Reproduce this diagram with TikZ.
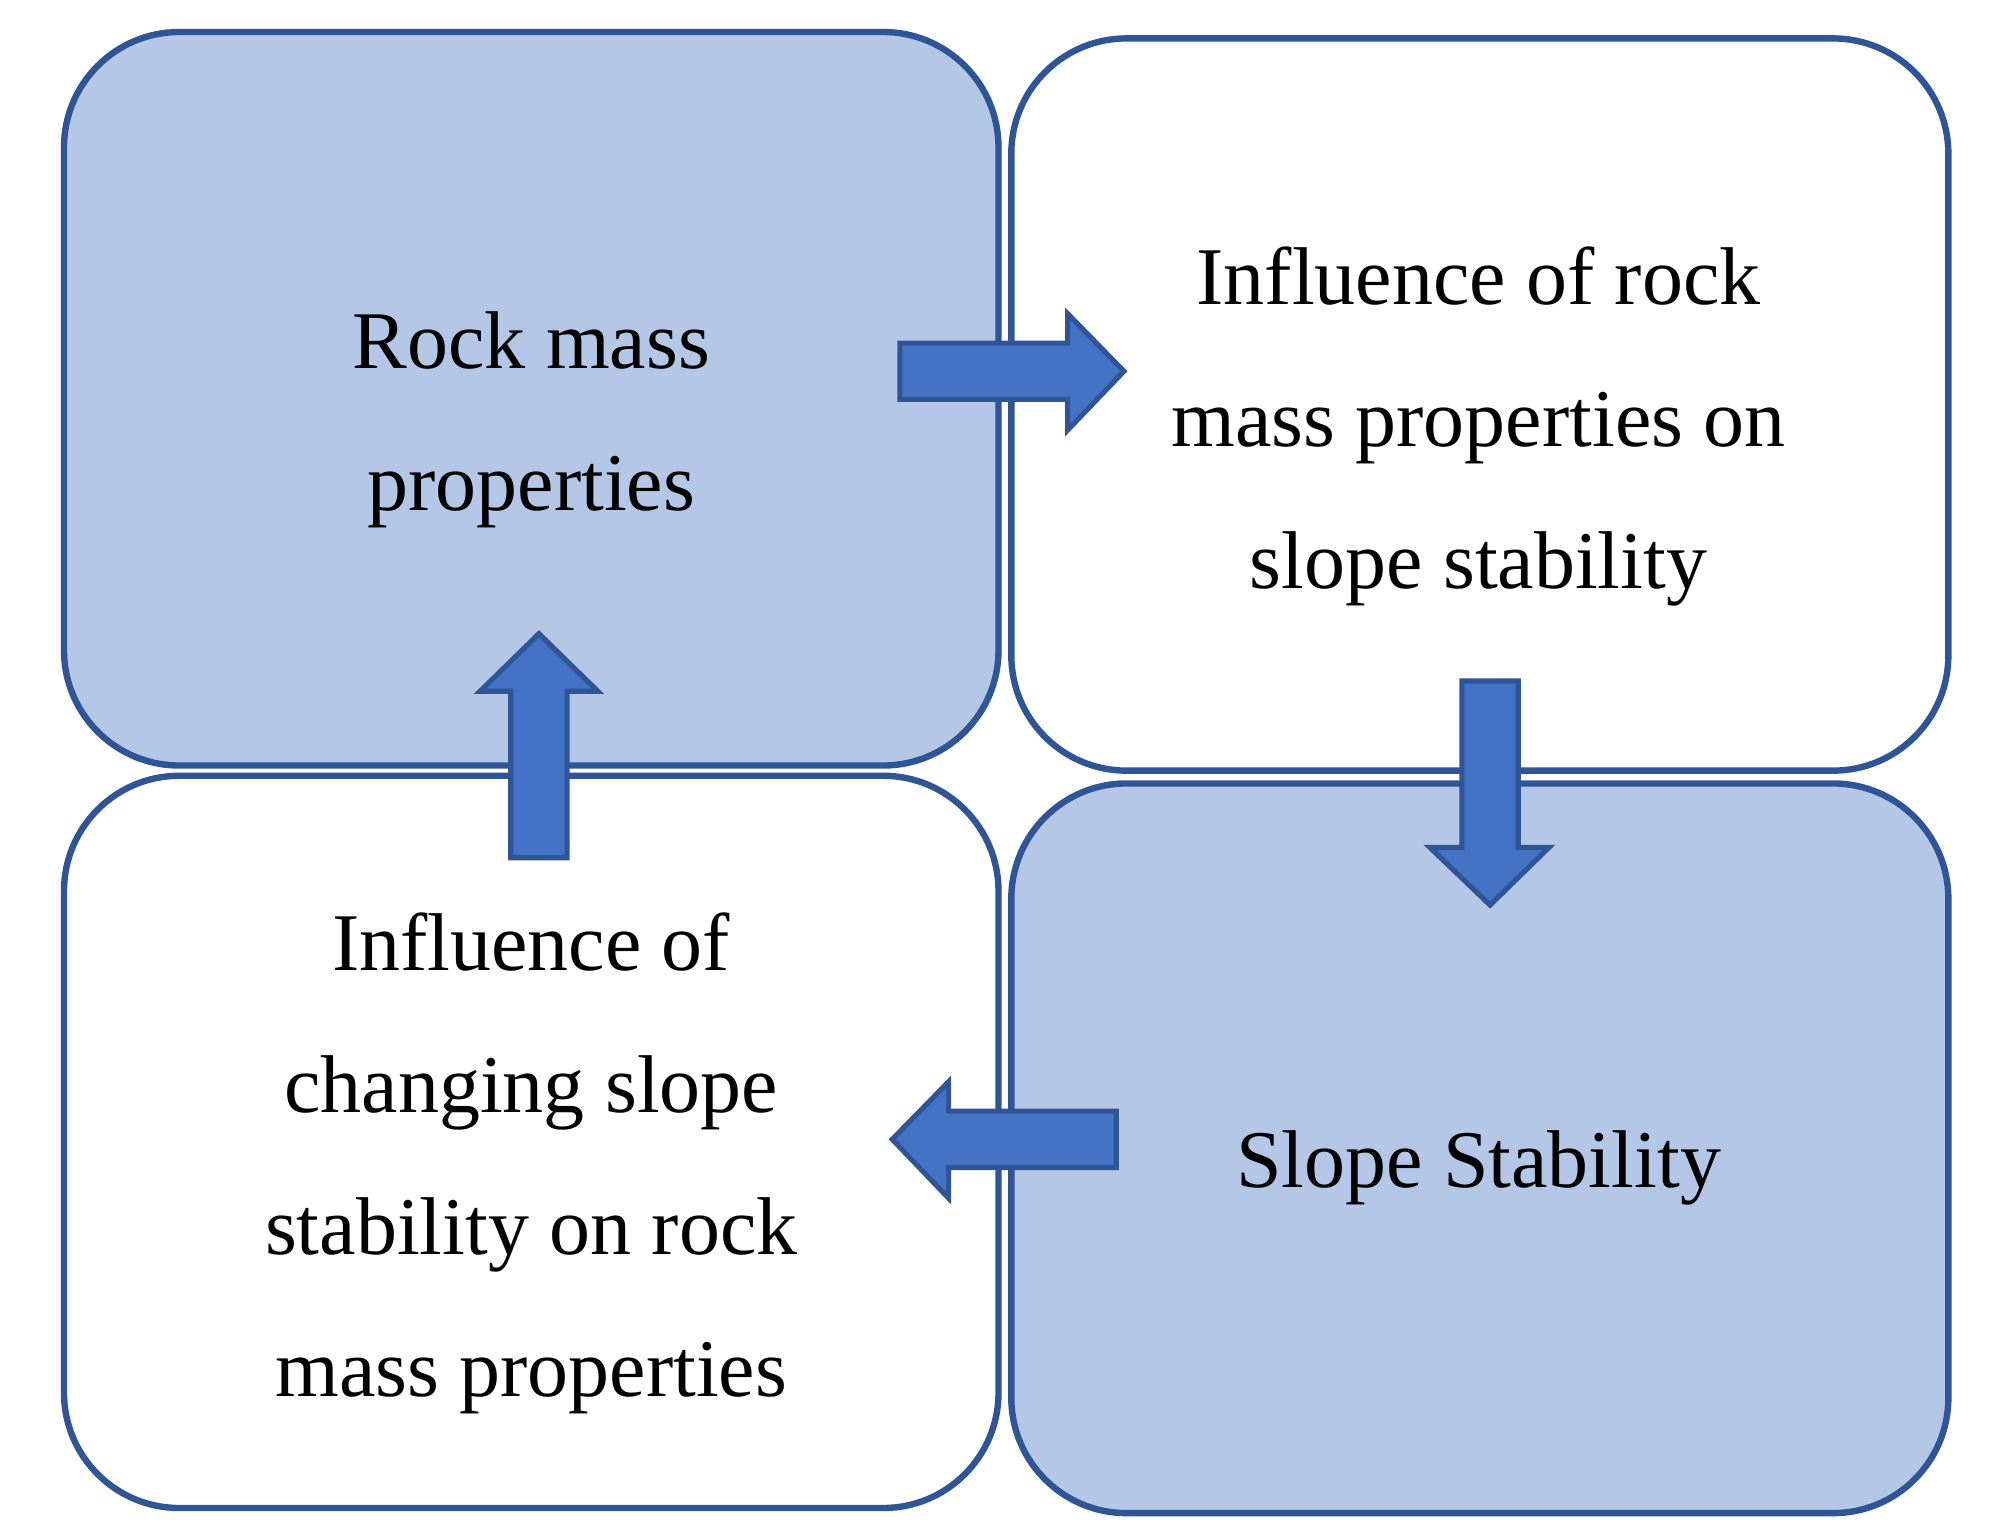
\documentclass[tikz,border=0pt]{standalone}
\usepackage{fontspec}
\setmainfont{Liberation Serif}
\begin{document}
\begin{tikzpicture}[x=0.5pt,y=-0.5pt,
  box/.style={draw=bord,line width=2.5pt,rounded corners=45pt},
  lbl/.style={align=center,font=\fontsize{32}{55.5}\selectfont,text=black},
  arr/.style={fill=arrf,draw=bord,line width=2pt,line join=miter}]
\definecolor{bord}{HTML}{2F5597}
\definecolor{boxf}{HTML}{B4C7E7}
\definecolor{arrf}{HTML}{4472C4}
\useasboundingbox (0,0) rectangle (1560,1201);
\draw[box,fill=boxf] (50,25) rectangle (780,598);
\draw[box,fill=white] (790,30) rectangle (1522,602);
\draw[box,fill=white] (50,606) rectangle (780,1178);
\draw[box,fill=boxf] (790,612) rectangle (1522,1182);
\node[lbl] (a) at (415,328) {Rock mass\\properties};
\node[lbl] (b) at (1155,333) {Influence of rock\\mass properties on\\slope stability};
\node[lbl] (d) at (415,909) {Influence of\\changing slope\\stability on rock\\mass properties};
\node[lbl] (c) at (1155,912) {Slope Stability};
% arrows
\draw[arr] (703,268) -- (834,268) -- (834,245) -- (878,290) -- (834,336) -- (834,312) -- (703,312) -- cycle;
\draw[arr] (1142,532) -- (1186,532) -- (1186,662) -- (1210,662) -- (1164,707) -- (1117,662) -- (1142,662) -- cycle;
\draw[arr] (872,868) -- (741,868) -- (741,845) -- (697,890) -- (741,936) -- (741,912) -- (872,912) -- cycle;
\draw[arr] (399,670) -- (443,670) -- (443,540) -- (467,540) -- (421,495) -- (375,540) -- (399,540) -- cycle;
\end{tikzpicture}
\end{document}
